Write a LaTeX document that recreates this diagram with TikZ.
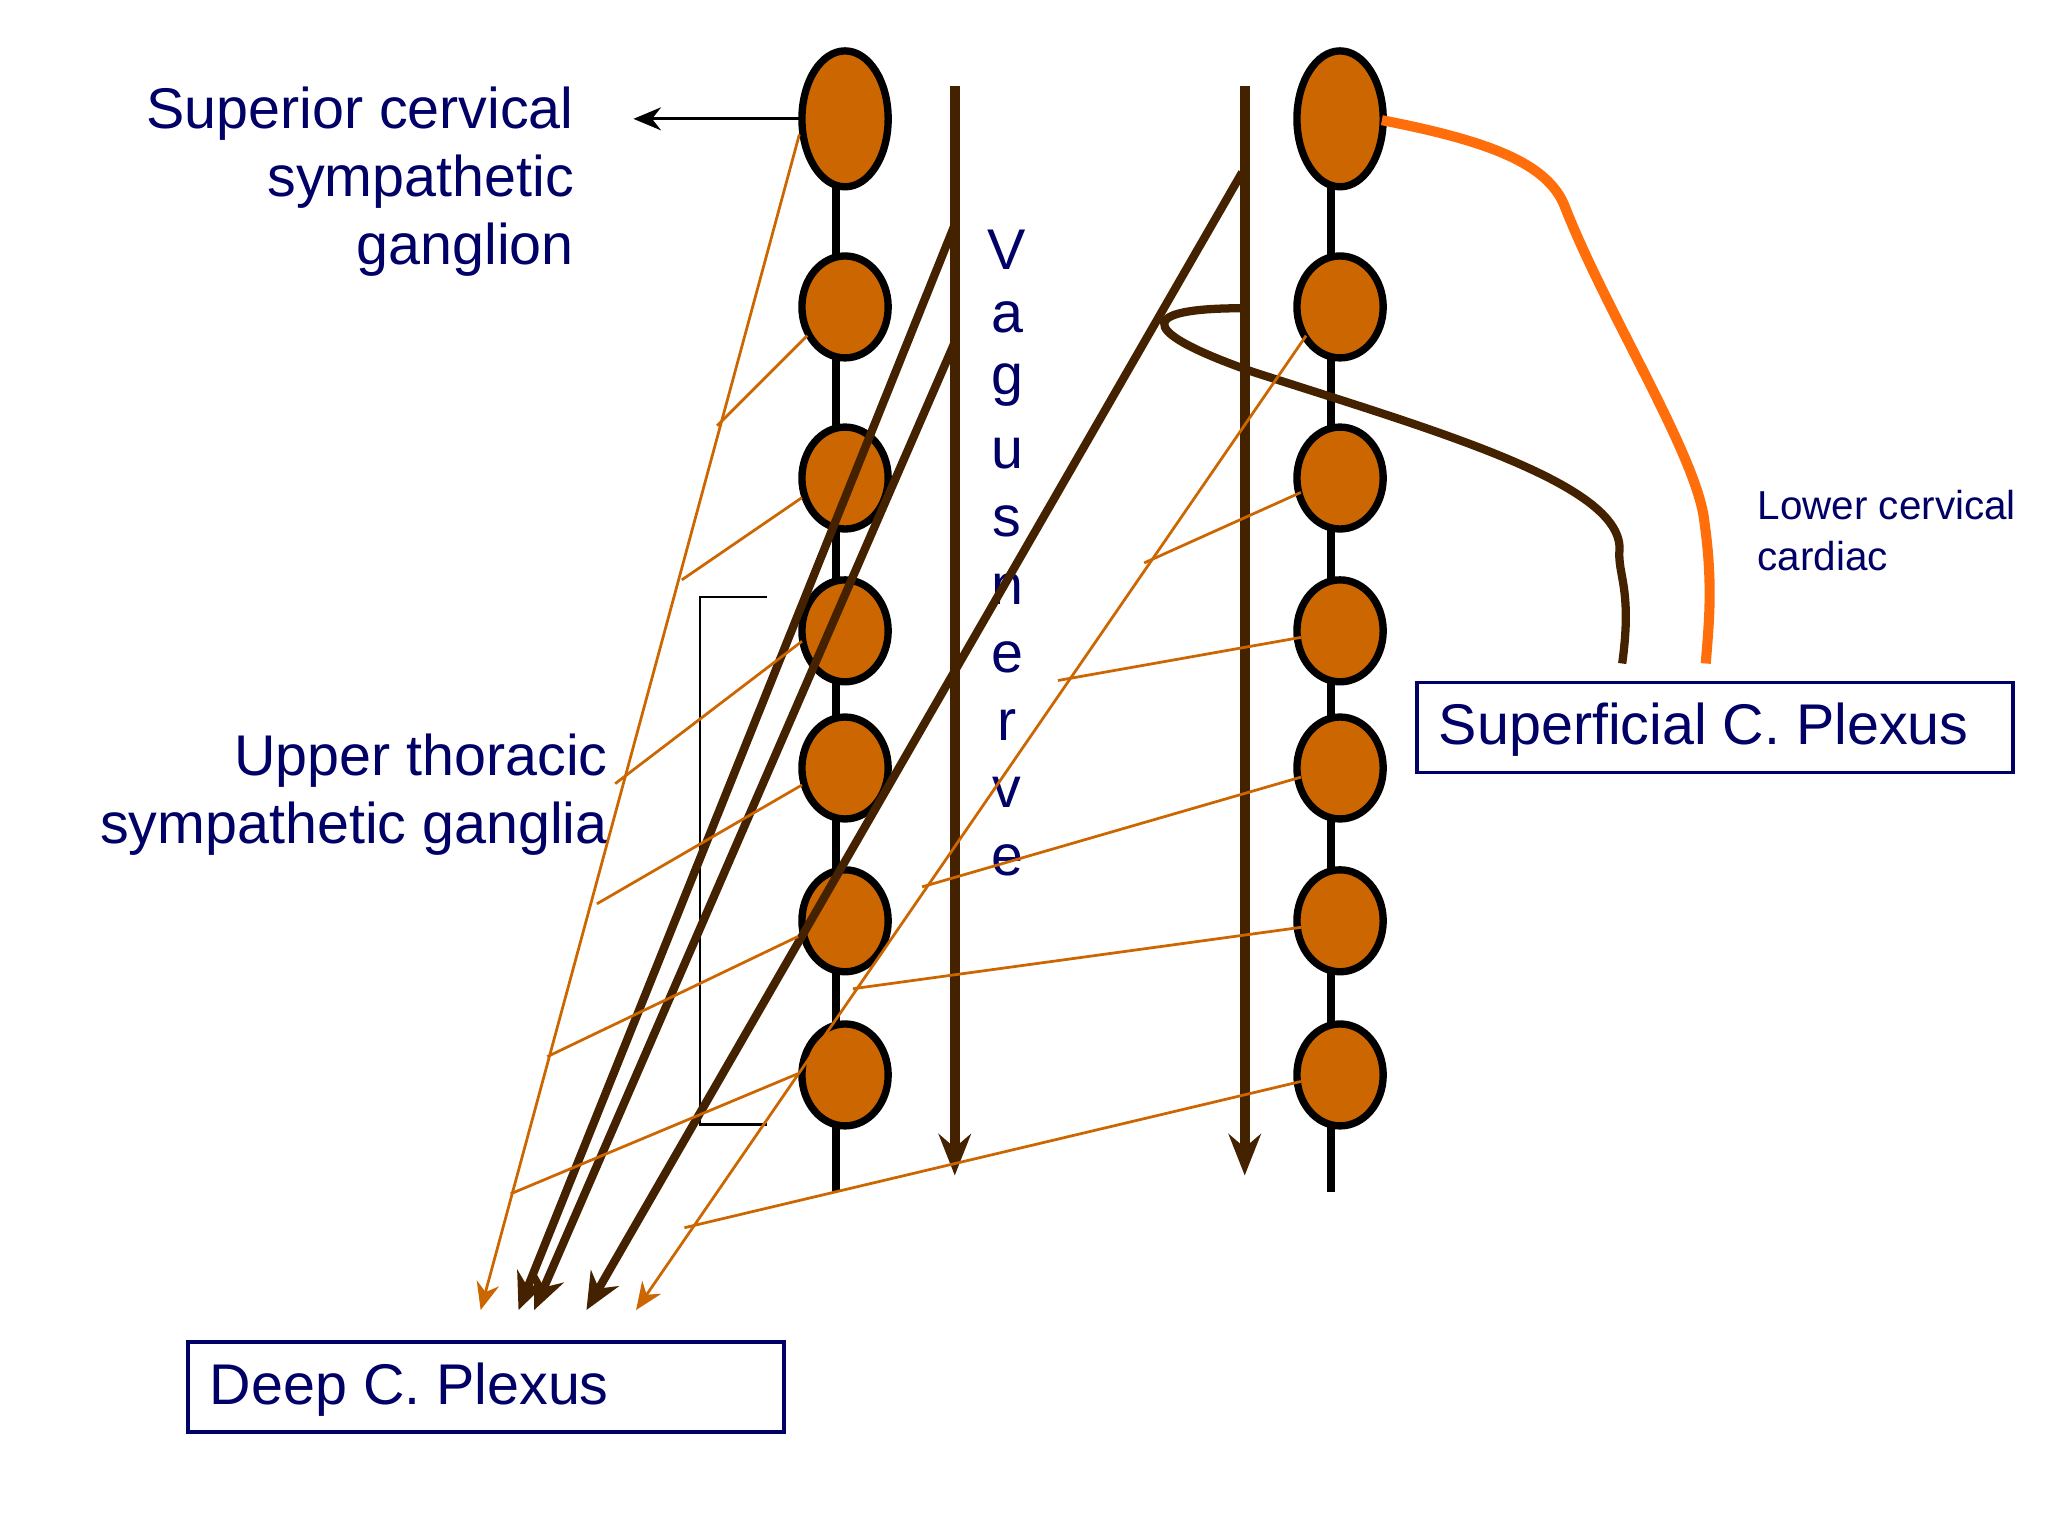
\documentclass[tikz,border=0pt]{standalone}
\usepackage{fontspec}
\setmainfont{Liberation Sans}
\usetikzlibrary{arrows.meta,shapes.geometric}
\definecolor{navy}{RGB}{0,0,102}
\definecolor{gang}{RGB}{204,102,0}
\definecolor{nerve}{RGB}{68,34,0}
\definecolor{bright}{RGB}{255,110,10}
\begin{document}
\begin{tikzpicture}[x=0.01cm,y=-0.01cm,
  ganglion/.style={ellipse,draw=black,line width=1.6pt,fill=gang,minimum width=0.66cm,minimum height=0.78cm,inner sep=0},
  big/.style={minimum height=1.04cm},
  thin/.style={draw=gang,line width=0.6pt},
  thick/.style={draw=nerve,line width=2.2pt},
  lab/.style={text=navy,font=\fontsize{12.5}{14.8}\selectfont,inner sep=0},
  box/.style={draw=navy,line width=0.8pt,minimum width=4.56cm,minimum height=0.69cm,inner sep=0}]
\useasboundingbox (0,0) rectangle (1568,1176);
% chains
\draw[line width=1.6pt] (640,91) -- (640,913);
\draw[line width=1.6pt] (1019,91) -- (1019,913);
\foreach \y [count=\i] in {91,235,366,483,588,705,823}{
  \ifnum\i=1
    \node[ganglion,big] (l\i) at (647,\y) {};
    \node[ganglion,big] (r\i) at (1026,\y) {};
  \else
    \node[ganglion] (l\i) at (647,\y) {};
    \node[ganglion] (r\i) at (1026,\y) {};
  \fi}
% vagus
\draw[thick,-{Stealth[length=9pt,width=7pt]}] (731,66) -- (731,900);
\draw[thick,-{Stealth[length=9pt,width=7pt]}] (953,66) -- (953,900);
\foreach \c [count=\i] in {V,a,g,u,s,n,e,r,v,e}
  \node[lab] at (771,139+52*\i) {\c};
% boxes
\node[box] (deep) at (372,1062) {};
\node[lab,anchor=west] at (160,1064) {Deep C. Plexus};
\node[box] (sup) at (1313,557) {};
\node[lab,anchor=west] at (1101,559) {Superficial C. Plexus};
% labels
\node[lab,align=right,anchor=north east] (scg) at (440,66) {Superior cervical\\sympathetic\\ganglion};
\node[lab,align=right,anchor=north east] (utg) at (466,561) {Upper thoracic\\sympathetic ganglia};
\node[text=navy,font=\fontsize{8.8}{11}\selectfont,align=left,anchor=north west,inner sep=0] at (1345,375) {Lower cervical\\cardiac};
\draw[-{Stealth[length=6pt,width=5pt]},line width=0.6pt] (612,91) -- (485,91);
\draw[line width=0.5pt] (587,457) -- (536,457) -- (536,861) -- (587,861);
% thick vagal branches to deep plexus
\draw[thick,line width=1.8pt,-{Stealth[length=8pt,width=7pt]}] (731,172) -- (397,1003);
\draw[thick,line width=1.8pt,-{Stealth[length=8pt,width=7pt]}] (731,262) -- (409,1003);
\draw[thick,line width=1.8pt,-{Stealth[length=8pt,width=7pt]}] (951,132) -- (449,1003);
\draw[thick,line width=1.8pt] (951,236) .. controls (880,236) and (860,250) .. (960,285)
  .. controls (1100,330) and (1240,370) .. (1240,420) .. controls (1238,440) and (1250,450) .. (1242,508);
\draw[draw=bright,line width=2.2pt] (1058,92) .. controls (1140,108) and (1185,125) .. (1198,158)
  .. controls (1230,240) and (1300,350) .. (1305,400) .. controls (1312,450) and (1308,480) .. (1306,508);
% thin sympathetic branches
\draw[thin,-{Stealth[length=6pt,width=5pt]}] (612,103) -- (368,1003);
\draw[thin,-{Stealth[length=6pt,width=5pt]}] (1000,257) -- (487,1003);
\draw[thin] (618,257) -- (549,326);
\draw[thin] (614,381) -- (522,444);
\draw[thin] (614,491) -- (471,600);
\draw[thin] (614,601) -- (457,692);
\draw[thin] (611,717) -- (419,809);
\draw[thin] (611,822) -- (391,914);
\draw[thin] (996,377) -- (876,431);
\draw[thin] (996,488) -- (810,521);
\draw[thin] (996,595) -- (706,679);
\draw[thin] (996,710) -- (653,757);
\draw[thin] (996,828) -- (524,940);
\end{tikzpicture}
\end{document}
